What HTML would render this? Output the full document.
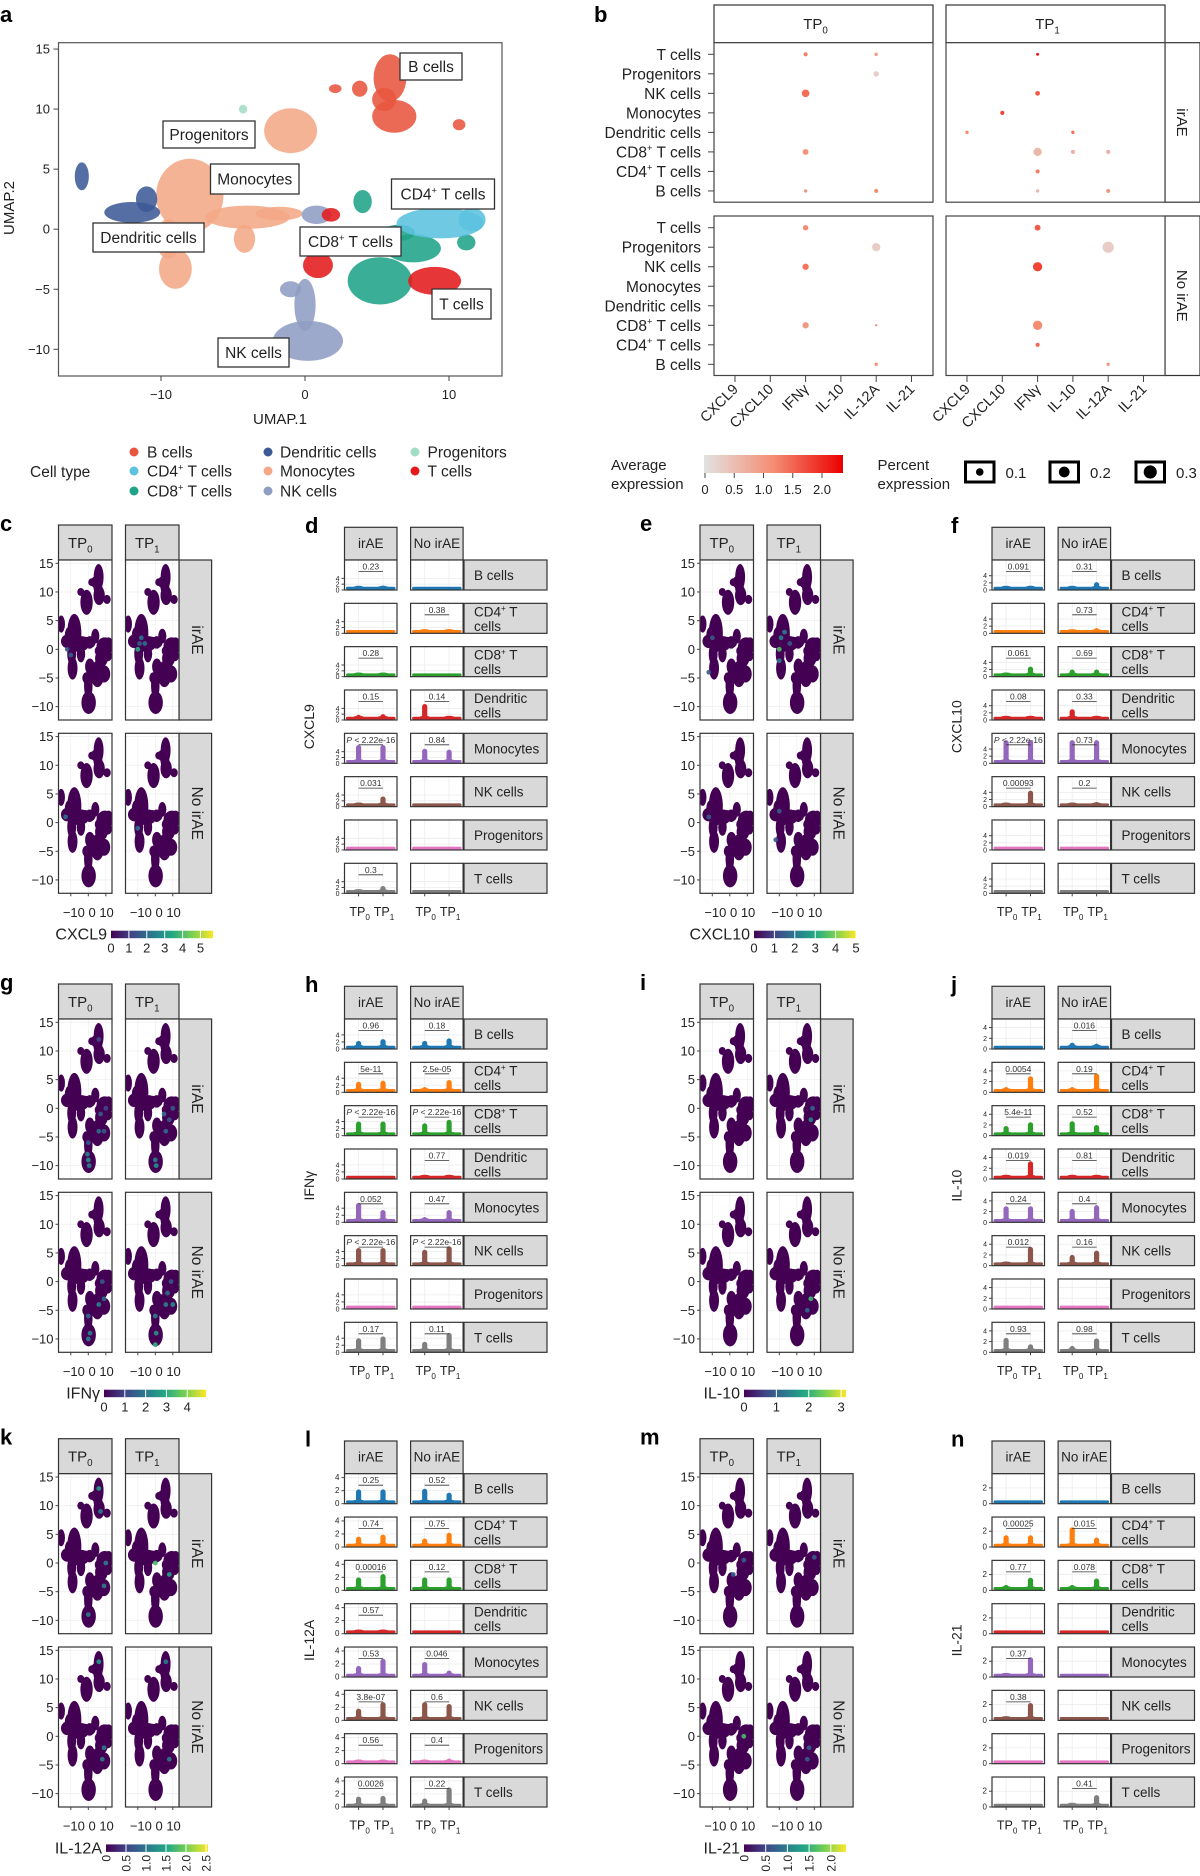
<!DOCTYPE html>
<html><head><meta charset="utf-8"><style>
html,body{margin:0;padding:0;background:#fff;}
svg{display:block;font-family:"Liberation Sans",Arial,sans-serif;}
</style></head><body>
<svg id="fig" xmlns="http://www.w3.org/2000/svg" width="1200" height="1876" viewBox="0 0 1200 1876"></svg>
<script>
// ---------------- DATA ----------------
const cellTypes = ['B cells','CD4+ T cells','CD8+ T cells','Dendritic cells','Monocytes','NK cells','Progenitors','T cells'];
const cellColors = ['#e8553f','#5bc2df','#1fa388','#3e5a96','#f4a886','#8f9dc4','#a3dcc4','#e31a1c'];
// UMAP cluster shapes [typeIndex, u, v, ru, rv]
const clusterShapes = [
 [4,-8.0,2.8,2.2,2.9],[4,-4.0,1.0,2.8,0.8],[4,-9.0,-3.3,1.0,1.5],[4,-9.5,-0.8,0.7,1.5],[4,-4.2,-0.8,0.6,1.0],[4,-1.0,8.2,1.7,1.7],[4,-1.8,1.3,1.5,0.4],
 [3,-12.0,1.4,1.8,0.7],[3,-11.0,2.5,0.6,0.9],[3,-15.5,4.4,0.35,1.0],
 [5,0.2,-9.3,2.3,1.5],[5,0.0,-6.3,0.6,2.0],[5,0.8,1.2,0.9,0.6],[5,-1.0,-5.0,0.6,0.5],
 [2,5.2,-4.3,2.1,1.8],[2,7.5,-1.6,1.8,1.0],[2,4.0,2.3,0.5,0.8],[2,11.2,-1.1,0.5,0.5],[2,6.5,-0.3,1.0,0.5],
 [1,9.4,0.5,2.9,1.1],[1,11.6,0.8,0.8,0.8],
 [0,5.9,12.6,1.0,1.8],[0,6.2,9.4,1.4,1.2],[0,5.5,10.8,0.7,0.8],[0,3.8,11.7,0.4,0.5],[0,10.7,8.7,0.3,0.3],[0,2.1,11.7,0.3,0.2],
 [7,9.0,-4.3,1.7,1.0],[7,0.9,-3.0,0.9,0.9],[7,1.8,1.2,0.5,0.4],
 [6,-4.3,10.0,0.15,0.2]
];
const drawOrder = [4,3,5,2,1,0,7,6];
const umapLabels = [['B cells',400,53,462,80],['Progenitors',163,121,255,148],['Monocytes',210.5,164,299,194],['CD4+ T cells',391.5,179,494.5,209],['Dendritic cells',93,223,204,252],['CD8+ T cells',300,227,401,256],['T cells',432,289,491,319],['NK cells',218,338,289,367]];

// Dot plot (panel b)
const dotRows = ['T cells','Progenitors','NK cells','Monocytes','Dendritic cells','CD8+ T cells','CD4+ T cells','B cells'];
const dotCols = ['CXCL9','CXCL10','IFN\u03b3','IL-10','IL-12A','IL-21'];
// [row, col, percent, avgExpr]
const dotsIrTP0 = [[0,2,0.03,1.3],[0,4,0.02,1.0],[1,4,0.05,0.3],[2,2,0.10,1.45],[5,2,0.06,1.1],[7,2,0.02,1.0],[7,4,0.03,1.2]];
const dotsIrTP1 = [[0,2,0.015,2.2],[2,2,0.04,1.6],[3,1,0.03,1.8],[4,0,0.02,1.2],[4,3,0.02,1.4],[5,2,0.12,0.6],[5,3,0.03,0.7],[5,4,0.03,0.7],[6,2,0.03,1.3],[7,2,0.02,0.6],[7,4,0.03,1.0]];
const dotsNoTP0 = [[0,2,0.05,1.2],[1,4,0.12,0.3],[2,2,0.07,1.4],[5,2,0.07,1.0],[5,4,0.01,1.2],[7,4,0.02,1.1]];
const dotsNoTP1 = [[0,2,0.06,1.6],[1,4,0.22,0.3],[2,2,0.15,1.8],[5,2,0.15,1.2],[6,2,0.03,1.5],[7,4,0.02,1.0]];
const avgTicks = [0,0.5,1.0,1.5,2.0];
const pctLegend = [0.1,0.2,0.3];

// Genes
const geneNames = ['CXCL9','CXCL10','IFN\u03b3','IL-10','IL-12A','IL-21'];
const colorbarMax = [5.7,5.0,4.9,3.15,2.55,2.35];
const colorbarTicks = [[0,1,2,3,4,5],[0,1,2,3,4,5],[0,1,2,3,4],[0,1,2,3],[0,0.5,1.0,1.5,2.0,2.5],[0,0.5,1.0,1.5,2.0]];
const colorbarTickText = [['0','1','2','3','4','5'],['0','1','2','3','4','5'],['0','1','2','3','4'],['0','1','2','3'],['0','0.5','1.0','1.5','2.0','2.5'],['0','0.5','1.0','1.5','2.0']];
const violinMax = [10.3,8.4,8.5,5.6,4.6,3.8];
const violinTicks = [[0,2,4],[0,2,4],[0,2,4],[0,2,4],[0,2,4],[0,2]];

// Violin peak heights per cell type [TP0, TP1]
const cxcl9Ir = [[0.5,1.5],[0,0],[0.5,1.3],[1.8,2.0],[6.3,6.3],[1.2,3.5],[0,0],[0.5,2.5]];
const cxcl9No = [[0,0],[0.5,1.5],[0,0],[5.5,0.7],[5.0,4.7],[0,0],[0,0],[0,0]];
const cxcl9PIr = ['0.23',null,'0.28','0.15','P < 2.22e-16','0.031',null,'0.3'];
const cxcl9PNo = [null,'0.38',null,'0.14','0.84',null,null,null];
const cxcl10Ir = [[0.5,1.2],[0,0],[0.6,2.8],[0.5,1.0],[6.5,6.5],[1.0,4.5],[0,0],[0,0]];
const cxcl10No = [[0.5,2.2],[1.0,1.5],[2.0,2.0],[3.0,0.5],[6.5,6.5],[0.5,1.3],[0,0],[0,0]];
const cxcl10PIr = ['0.091',null,'0.061','0.08','P < 2.22e-16','0.00093',null,null];
const cxcl10PNo = ['0.31','0.73','0.69','0.33','0.73','0.2',null,null];
const ifngIr = [[2.3,2.8],[3.0,3.3],[4.0,4.0],[0,0],[5.5,3.5],[5.0,5.0],[0,0],[4.0,4.5]];
const ifngNo = [[2.3,3.0],[1.5,3.5],[3.5,4.5],[0.5,0.5],[1.5,3.5],[4.5,5.5],[0,0],[3.0,5.5]];
const ifngPIr = ['0.96','5e-11','P < 2.22e-16',null,'0.052','P < 2.22e-16',null,'0.17'];
const ifngPNo = ['0.18','2.5e-05','P < 2.22e-16','0.77','0.47','P < 2.22e-16',null,'0.11'];
const il10Ir = [[0,0],[1.0,3.0],[1.8,2.5],[0.7,3.3],[3.0,3.0],[0.3,3.5],[0,0],[2.7,1.5]];
const il10No = [[1.2,1.0],[1.0,3.5],[2.7,2.0],[0.4,0.5],[2.5,3.2],[2.0,2.8],[0,0],[1.2,2.6]];
const il10PIr = [null,'0.0054','5.4e-11','0.019','0.24','0.012',null,'0.93'];
const il10PNo = ['0.016','0.19','0.52','0.81','0.4','0.16',null,'0.98'];
const il12Ir = [[2.2,2.2],[1.6,1.9],[2.0,2.5],[0.5,0.3],[1.7,2.8],[1.8,2.8],[0.6,0.3],[1.6,1.7]];
const il12No = [[2.3,1.7],[1.3,2.2],[2.0,2.0],[0,0],[2.3,1.0],[2.8,2.5],[0.5,0.8],[1.3,3.0]];
const il12PIr = ['0.25','0.74','0.00016','0.57','0.53','3.8e-07','0.56','0.0026'];
const il12PNo = ['0.52','0.75','0.12',null,'0.046','0.6','0.4','0.22'];
const il21Ir = [[0,0],[1.5,1.5],[0.7,1.6],[0,0],[0.2,2.5],[0.2,2.2],[0,0],[0,0]];
const il21No = [[0,0],[2.5,1.2],[0.7,1.5],[0,0],[0,0],[0,0],[0,0],[0.2,1.5]];
const il21PIr = [null,'0.00025','0.77',null,'0.37','0.38',null,null];
const il21PNo = [null,'0.015','0.078',null,null,null,null,'0.41'];
const peaksIr = [cxcl9Ir,cxcl10Ir,ifngIr,il10Ir,il12Ir,il21Ir];
const peaksNo = [cxcl9No,cxcl10No,ifngNo,il10No,il12No,il21No];
const pvalIr = [cxcl9PIr,cxcl10PIr,ifngPIr,il10PIr,il12PIr,il21PIr];
const pvalNo = [cxcl9PNo,cxcl10PNo,ifngPNo,il10PNo,il12PNo,il21PNo];

// Expression hotspots on small UMAPs: [group(0 irAE,1 No), tp, u, v, value]
const hotCXCL9 = [[0,1,-9,1,2.5],[0,1,-10,0,5],[0,1,-8,2,3],[0,1,-6,1,3],[0,0,-10,-1,2.5],[0,0,-12,0,2],[1,0,-13,1,3],[1,1,-10,-1,3]];
const hotCXCL10 = [[0,1,-10,0,5],[0,1,-9,2,3],[0,1,-7,3,3],[0,1,-10,-2,3],[0,1,-4,1,2],[0,0,-10,2,2],[0,0,-12,-4,2],[1,0,-12,1,2],[1,1,-12,-3,2],[1,1,-10,2,2]];
const hotIFNG = [[0,0,0,-9,3.5],[0,0,0.5,-10,3],[0,0,-0.5,-8,3],[0,0,6,-4,2.5],[0,0,9,-4,2],[0,0,7,-1,2],[0,0,10,0,1.5],[0,0,6,12,1.5],[0,0,0,-6,2],
 [0,1,0,-9,3],[0,1,0.5,-10,3.5],[0,1,6,-4,2.5],[0,1,8,-2,2],[0,1,10,0,2],[0,1,5,-1,2.5],
 [1,0,0,-10,3],[1,0,1,-9,3],[1,0,6,-4,3],[1,0,9,-3,2.5],[1,0,8,0,2],[1,0,0,-6,2.5],
 [1,1,0,-11,4.5],[1,1,0.5,-9,3.5],[1,1,6,-4,3],[1,1,10,-4,3.5],[1,1,7,-2,2.5],[1,1,0,-6,3],[1,1,9,0,2]];
const hotIL10 = [[0,1,8,-2,2],[0,1,9,0,1.5],[1,1,8,-3,3],[1,1,6,-5,1.5]];
const hotIL12 = [[0,0,6,13,2],[0,0,7,9,1.5],[0,0,9,-4,1.5],[0,0,10,0,1.5],[0,0,0,-9,1.5],[0,1,0,0,2.5],[0,1,8,-2,2],[1,0,6,13,2],[1,0,8,-4,1.5],[1,0,9,-2,1.5],[1,1,6,13,1.5],[1,1,8,-4,1.5]];
const hotIL21 = [[0,0,8,0.5,1],[0,0,2,-2,1],[0,1,10,1,1],[1,0,8,0,2.3],[1,1,6,-4,1],[1,1,7,-2,1]];
const hotspots = [hotCXCL9,hotCXCL10,hotIFNG,hotIL10,hotIL12,hotIL21];

// ---------------- HELPERS ----------------
const NS='http://www.w3.org/2000/svg';
const svg=document.getElementById('fig');
function mk(tag, attrs, name, parent){
  const e=document.createElementNS(NS,tag);
  for(const k in attrs) e.setAttribute(k,attrs[k]);
  
  
  (parent||svg).appendChild(e);
  return e;
}
function txt(x,y,s,size,name,anchor,extra){
  const a={x:x,y:y,'font-size':size,'text-anchor':anchor||'start',fill:'#222'};
  if(extra) for(const k in extra) a[k]=extra[k];
  const e=mk('text',a,name);
  e.textContent=s;
  return e;
}
function cellText(x,y,s,size,name,anchor,extra){
  const e=txt(x,y,'',size,name,anchor,extra);
  const parts=s.split('+');
  parts.forEach((p,i)=>{
    if(i>0){
      const sup=document.createElementNS(NS,'tspan');
      sup.setAttribute('dy',-size*0.4);
      sup.setAttribute('font-size',size*0.6);
      sup.textContent='+';
      e.appendChild(sup);
      const t=document.createElementNS(NS,'tspan');
      t.setAttribute('dy',size*0.4);
      t.textContent=p;
      e.appendChild(t);
    } else {
      const t=document.createElementNS(NS,'tspan');
      t.textContent=p;
      e.appendChild(t);
    }
  });
  return e;
}
function tpText(x,y,idx,size,name,anchor){
  const e=txt(x,y,'',size,name,anchor);
  const a=document.createElementNS(NS,'tspan'); a.textContent='TP'; e.appendChild(a);
  const b=document.createElementNS(NS,'tspan'); b.setAttribute('dy',size*0.3); b.setAttribute('font-size',size*0.65); b.textContent=idx; e.appendChild(b);
  return e;
}
const vir=[[68,1,84],[65,68,135],[42,120,142],[34,168,132],[122,209,81],[253,231,37]];
function viridis(t){
  t=Math.max(0,Math.min(1,t)); const p=t*5; const i=Math.min(4,Math.floor(p)); const f=p-i;
  const c=vir[i].map((v,k)=>Math.round(v+(vir[i+1][k]-v)*f));
  return 'rgb('+c.join(',')+')';
}
function redScale(v){
  const stops=[[0,[226,226,226]],[1.2,[244,140,112]],[2.36,[234,0,0]]];
  v=Math.max(0,Math.min(2.36,v));
  for(let i=0;i<2;i++){ if(v<=stops[i+1][0]){ const f=(v-stops[i][0])/(stops[i+1][0]-stops[i][0]);
    return 'rgb('+stops[i][1].map((c,k)=>Math.round(c+(stops[i+1][1][k]-c)*f)).join(',')+')'; } }
  return 'rgb(234,0,0)';
}
function pctR(p){ return 12*Math.sqrt(p); }

// ---------------- PANEL A ----------------
txt(0,22,'a',22,'panel-label-a','start',{'font-weight':'bold',fill:'#000'});
const ax=u=>305+14.4*u, ay=v=>229.2-12.01*v;
mk('rect',{x:58.5,y:42.7,width:443.5,height:333.3,fill:'#fff',stroke:'#555','stroke-width':1.2},'umap-plot-area');
drawOrder.forEach(t=>{
  clusterShapes.filter(c=>c[0]===t).forEach(c=>{
    const sparse=(c[0]===4 && c[2]>-2 && c[3]>5);
    mk('ellipse',{cx:ax(c[1]),cy:ay(c[2]),rx:c[3]*14.4+2,ry:c[4]*12.01+2,fill:cellColors[t],opacity:sparse?0.4:0.88},'umap-cluster-'+cellTypes[t].toLowerCase().replace(/[^a-z0-9]+/g,'-'));
  });
});
[15,10,5,0,-5,-10].forEach(v=>{
  mk('line',{x1:53.5,x2:58.5,y1:ay(v),y2:ay(v),stroke:'#444'},'y-tick');
  txt(50,ay(v)+4.5,String(v).replace('-','\u2212'),13,'y-tick-label','end');
});
[-10,0,10].forEach(u=>{
  mk('line',{x1:ax(u),x2:ax(u),y1:376,y2:381,stroke:'#444'},'x-tick');
  txt(ax(u),399,String(u).replace('-','\u2212'),13,'x-tick-label','middle');
});
txt(280,424,'UMAP.1',15,'x-axis-title','middle');
txt(14,208,'UMAP.2',15,'y-axis-title','middle',{transform:'rotate(-90 14 208)'});
umapLabels.forEach(l=>{
  mk('rect',{x:l[1],y:l[2],width:l[3]-l[1],height:l[4]-l[2],fill:'#fff',stroke:'#333','stroke-width':1.3},'cluster-label-box');
  cellText((l[1]+l[3])/2,(l[2]+l[4])/2+5.5,l[0],15.5,'cluster-label','middle');
});
txt(30,477,'Cell type',15.5,'legend-title');
const legPos=[[0,0],[0,1],[0,2],[1,0],[1,1],[1,2],[2,0],[2,1]];
const legIdx=[0,1,2,3,4,5,6,7];
const legColX=[[134,147],[268,280],[415,427.5]], legRowY=[452,471,491];
legIdx.forEach((t,i)=>{
  const p=legPos[i];
  mk('circle',{cx:legColX[p[0]][0],cy:legRowY[p[1]],r:4.5,fill:cellColors[t]},'legend-dot');
  cellText(legColX[p[0]][1],legRowY[p[1]]+5.5,cellTypes[t],15.5,'legend-entry','start');
});

// ---------------- PANEL B ----------------
txt(594,22,'b',22,'panel-label-b','start',{'font-weight':'bold',fill:'#000'});
const bPanelX=[714,946], bPanelW=219, bPanelY=[42.7,216], bPanelH=159.5;
const bx=(p,c)=>bPanelX[p]+21+35.3*c, by=(g,r)=>(g===0?54.3:227.7)+19.52*r;
[0,1].forEach(p=>{
  mk('rect',{x:bPanelX[p],y:5,width:bPanelW,height:37.7,fill:'#fff',stroke:'#333','stroke-width':1.2},'facet-strip-tp');
  tpText(bPanelX[p]+bPanelW/2-8,29,String(p),15,'facet-strip-label','middle');
});
[0,1].forEach(g=>{
  mk('rect',{x:1165,y:bPanelY[g],width:35,height:bPanelH,fill:'#fff',stroke:'#333','stroke-width':1.2},'facet-strip-group');
  const cy=bPanelY[g]+bPanelH/2;
  txt(1177,cy,g===0?'irAE':'No irAE',15,'facet-strip-label','middle',{transform:'rotate(90 1177 '+cy+')'});
  [0,1].forEach(p=>{
    mk('rect',{x:bPanelX[p],y:bPanelY[g],width:bPanelW,height:bPanelH,fill:'#fff',stroke:'#444','stroke-width':1.2},'dot-panel');
  });
  dotRows.forEach((r,i)=>{
    mk('line',{x1:708,x2:714,y1:by(g,i),y2:by(g,i),stroke:'#444'},'y-tick');
    cellText(701,by(g,i)+5.5,r,15.5,'row-label','end');
  });
});
const dotSets=[[dotsIrTP0,0,0],[dotsIrTP1,0,1],[dotsNoTP0,1,0],[dotsNoTP1,1,1]];
dotSets.forEach(ds=>{
  ds[0].forEach(d=>{
    mk('circle',{cx:bx(ds[2],d[1]),cy:by(ds[1],d[0]),r:pctR(d[2]),fill:redScale(d[3])},'expression-dot');
  });
});
[0,1].forEach(p=>{
  dotCols.forEach((c,i)=>{
    const x=bx(p,i);
    mk('line',{x1:x,x2:x,y1:376,y2:382,stroke:'#444'},'x-tick');
    txt(x+4,390,c,14.5,'x-tick-label','end',{transform:'rotate(-45 '+(x+4)+' 390)'});
  });
});
txt(611,470,'Average',15,'legend-title');
txt(611,489,'expression',15,'legend-title');
const grad=mk('linearGradient',{id:'redgrad',x1:0,x2:1,y1:0,y2:0},'gradient-def');
[0,0.25,0.5,0.75,1].forEach(f=>{ mk('stop',{offset:f,'stop-color':redScale(f*2.36)},'gradient-stop',grad); });
mk('rect',{x:704,y:455,width:139,height:18,fill:'url(#redgrad)'},'average-expression-colorbar');
avgTicks.forEach(v=>{
  const x=705+58.5*v;
  mk('line',{x1:x,x2:x,y1:473,y2:478,stroke:'#444'},'colorbar-tick');
  txt(x,494,v===0?'0':v.toFixed(1),13,'colorbar-tick-label','middle');
});
txt(877.5,470,'Percent',15,'legend-title');
txt(877.5,489,'expression',15,'legend-title');
const keyX=[965.5,1050,1136];
pctLegend.forEach((p,i)=>{
  mk('rect',{x:keyX[i],y:462,width:28.5,height:20,fill:'#fff',stroke:'#000','stroke-width':3},'percent-legend-key');
  mk('circle',{cx:keyX[i]+14.25,cy:472,r:pctR(p),fill:'#000'},'percent-legend-dot');
  txt(keyX[i]+40,478,String(p),15,'percent-legend-label');
});

// ---------------- GENE PANELS ----------------
const rowDY=[0,459,913.7], leftDX=[0,641.5], rightDX=[0,647.5];
const letterL=[['c','e'],['g','i'],['k','m']], letterR=[['d','f'],['h','j'],['l','n']];
const letterLX=[0,640], letterRX=[305,951];
const cbX=[111,112.5,104,102.5,106,102.5];
const vRowLabels=['B cells','CD4+ T|cells','CD8+ T|cells','Dendritic|cells','Monocytes','NK cells','Progenitors','T cells'];
const violinColors=['#1f77b4','#ff7f0e','#2ca02c','#d62728','#9467bd','#8c564b','#e377c2','#7f7f7f'];

for(let gi=0;gi<6;gi++){
  const row=Math.floor(gi/2), col=gi%2;
  const dy=rowDY[row], dx=leftDX[col], vdx=rightDX[col];
  txt(letterLX[col],dy+531,letterL[row][col],22,'panel-label-'+letterL[row][col],'start',{'font-weight':'bold',fill:'#000'});
  txt(letterRX[col],dy+533,letterR[row][col],22,'panel-label-'+letterR[row][col],'start',{'font-weight':'bold',fill:'#000'});
  const stripX=[58.5+dx,125.5+dx], pw=53.5;
  const gy=[560+dy,733.3+dy], ph=160;
  [0,1].forEach(tp=>{
    mk('rect',{x:stripX[tp],y:525+dy,width:pw,height:35,fill:'#d9d9d9',stroke:'#333','stroke-width':1.2},'facet-strip-tp');
    tpText(stripX[tp]+pw/2-5,548+dy,String(tp),15,'facet-strip-label','middle');
  });
  [0,1].forEach(g=>{
    mk('rect',{x:179+dx,y:gy[g],width:32.6,height:ph,fill:'#d9d9d9',stroke:'#333','stroke-width':1.2},'facet-strip-group');
    const cx=192+dx, cy=gy[g]+ph/2;
    txt(cx,cy,g===0?'irAE':'No irAE',15.5,'facet-strip-label','middle',{transform:'rotate(90 '+cx+' '+cy+')'});
    [0,1].forEach(tp=>{
      const ux=u=>stripX[tp]+29.8+1.75*u, vy=v=>gy[g]+89.3-5.733*v;
      const clipId='clip'+gi+'_'+g+'_'+tp;
      const cp=mk('clipPath',{id:clipId},'clip-def');
      mk('rect',{x:stripX[tp],y:gy[g],width:pw,height:ph},'clip-rect',cp);
      mk('rect',{x:stripX[tp],y:gy[g],width:pw,height:ph,fill:'#fff'},'umap-facet-bg');
      const grp=mk('g',{'clip-path':'url(#'+clipId+')'},'umap-facet');
      [-10,0,10].forEach(u=>mk('line',{x1:ux(u),x2:ux(u),y1:gy[g],y2:gy[g]+ph,stroke:'#efefef','stroke-width':0.8},'grid-line',grp));
      [15,10,5,0,-5,-10].forEach(v=>mk('line',{x1:stripX[tp],x2:stripX[tp]+pw,y1:vy(v),y2:vy(v),stroke:'#efefef','stroke-width':0.8},'grid-line',grp));
      clusterShapes.forEach(c=>{
        mk('ellipse',{cx:ux(c[1]),cy:vy(c[2]),rx:c[3]*1.75+3.2,ry:c[4]*5.733+2.8,fill:'#440154'},'umap-cell-cluster',grp);
      });
      hotspots[gi].filter(h=>h[0]===g&&h[1]===tp).forEach(h=>{
        mk('circle',{cx:ux(h[2]),cy:vy(h[3]),r:2.4,fill:viridis(0.7*h[4]/colorbarMax[gi]),opacity:0.9},'expression-point',grp);
      });
      mk('rect',{x:stripX[tp],y:gy[g],width:pw,height:ph,fill:'none',stroke:'#333','stroke-width':1.2},'umap-facet-border');
      if(tp===0){
        [15,10,5,0,-5,-10].forEach(v=>{
          mk('line',{x1:stripX[0]-3,x2:stripX[0],y1:vy(v),y2:vy(v),stroke:'#444'},'y-tick');
          txt(stripX[0]-5,vy(v)+4.5,String(v).replace('-','\u2212'),13,'y-tick-label','end');
        });
      }
      if(g===1){
        [-10,0,10].forEach(u=>{
          mk('line',{x1:ux(u),x2:ux(u),y1:gy[1]+ph,y2:gy[1]+ph+3,stroke:'#444'},'x-tick');
        });
        txt(ux(0),913+dy+4,'\u221210 0 10',13,'x-tick-labels','middle');
      }
    });
  });
  const cbx=cbX[gi]+dx, cby=930.7+dy, cbw=102, cbh=7.5;
  const gid='vir'+gi;
  const lg=mk('linearGradient',{id:gid,x1:0,x2:1,y1:0,y2:0},'gradient-def');
  [0,0.2,0.4,0.6,0.8,1].forEach(f=>mk('stop',{offset:f,'stop-color':viridis(f)},'gradient-stop',lg));
  mk('rect',{x:cbx,y:cby,width:cbw,height:cbh,fill:'url(#'+gid+')'},'expression-colorbar');
  txt(cbx-4,cby+9,geneNames[gi],16,'colorbar-title','end');
  colorbarTicks[gi].forEach((v,i)=>{
    const x=cbx+cbw*v/colorbarMax[gi];
    if(v>0) mk('line',{x1:x,x2:x,y1:cby,y2:cby+cbh,stroke:'#fff','stroke-width':1},'colorbar-tick');
    if(row<2) txt(x,cby+22,colorbarTickText[gi][i],13,'colorbar-tick-label','middle');
    else txt(x+4.5,cby+cbh+3,colorbarTickText[gi][i],12,'colorbar-tick-label','end',{transform:'rotate(-90 '+(x+4.5)+' '+(cby+cbh+3)+')'});
  });
  const vx=[344.5+vdx,410.6+vdx], vw=52.5;
  const vmax=violinMax[gi], sc=30/vmax;
  [0,1].forEach(g=>{
    mk('rect',{x:vx[g],y:527.3+dy,width:vw,height:32.7,fill:'#d9d9d9',stroke:'#333','stroke-width':1.2},'facet-strip-group');
    txt(vx[g]+vw/2,548+dy,g===0?'irAE':'No irAE',13.5,'facet-strip-label','middle');
  });
  vRowLabels.forEach((lab,r)=>{
    const top=560+dy+43.33*r;
    mk('rect',{x:464+vdx,y:top,width:83,height:30,fill:'#d9d9d9',stroke:'#333','stroke-width':1.2},'facet-strip-celltype');
    const lines=lab.split('|');
    if(lines.length===1) cellText(474+vdx,top+20,lines[0],13.5,'facet-strip-label','start');
    else { cellText(474+vdx,top+13,lines[0],13.5,'facet-strip-label','start'); txt(474+vdx,top+27.5,lines[1],13.5,'facet-strip-label','start'); }
    [0,1].forEach(g=>{
      const px=vx[g];
      const tpx=[px+14.1,px+38.5];
      const base=top+30;
      mk('rect',{x:px,y:top,width:vw,height:30,fill:'#fff'},'violin-facet-bg');
      tpx.forEach(x=>mk('line',{x1:x,x2:x,y1:top,y2:base,stroke:'#ececec','stroke-width':0.8},'grid-line'));
      violinTicks[gi].forEach(t=>mk('line',{x1:px,x2:px+vw,y1:base-t*sc,y2:base-t*sc,stroke:'#ececec','stroke-width':0.8},'grid-line'));
      const color=violinColors[r];
      const hv=(g===0?peaksIr:peaksNo)[gi][r];
      mk('line',{x1:px+3,x2:px+vw-3,y1:base-1.8,y2:base-1.8,stroke:color,'stroke-width':3,'stroke-linecap':'round'},'violin-baseline');
      hv.forEach((h,i)=>{
        const hh=h*sc;
        if(hh>0.5){
          mk('ellipse',{cx:tpx[i],cy:base-2,rx:6,ry:2.2,fill:color},'violin-bump');
          mk('rect',{x:tpx[i]-2.6,y:base-hh,width:5.2,height:hh,rx:2.6,fill:color},'violin-peak');
        }
      });
      const pv=(g===0?pvalIr:pvalNo)[gi][r];
      if(pv){
        mk('line',{x1:tpx[0],x2:tpx[1],y1:top+11.5,y2:top+11.5,stroke:'#333','stroke-width':0.8},'significance-bracket');
        const t=txt((tpx[0]+tpx[1])/2,top+9.5,'',8.5,'p-value-label','middle',{fill:'#333'});
        if(pv.indexOf('P')===0){
          const a=document.createElementNS(NS,'tspan'); a.setAttribute('font-style','italic'); a.textContent='P'; t.appendChild(a);
          const b=document.createElementNS(NS,'tspan'); b.textContent=pv.slice(1); t.appendChild(b);
        } else t.textContent=pv;
      }
      mk('rect',{x:px,y:top,width:vw,height:30,fill:'none',stroke:'#333','stroke-width':1.2},'violin-facet-border');
      if(g===0){
        violinTicks[gi].forEach(t=>{
          mk('line',{x1:px-3,x2:px,y1:base-t*sc,y2:base-t*sc,stroke:'#444'},'y-tick');
          txt(px-5,base-t*sc+2.5,String(t),row===2?8:7,'y-tick-label','end');
        });
      }
      if(r===7){
        tpx.forEach((x,i)=>{
          mk('line',{x1:x,x2:x,y1:base,y2:base+3,stroke:'#444'},'x-tick');
          tpText(x+1,913+dy+3,String(i),12.5,'x-tick-label','middle');
        });
      }
    });
  });
  const ytx=314+vdx, yty=726.7+dy;
  txt(ytx,yty,geneNames[gi],14,'y-axis-title','middle',{transform:'rotate(-90 '+ytx+' '+yty+')'});
}
</script>
</body></html>
